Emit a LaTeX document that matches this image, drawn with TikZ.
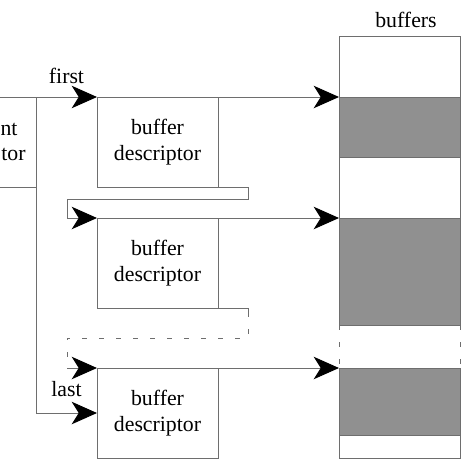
\documentclass[tikz,border=0pt]{standalone}
\usepackage{fontspec}
\setmainfont{Liberation Serif}
\usetikzlibrary{arrows.meta,calc}
\definecolor{linegray}{RGB}{110,110,110}
\definecolor{bufgray}{RGB}{144,144,144}
\begin{document}
\begin{tikzpicture}[
   x=0.025cm, y=-0.025cm,
   font=\fontsize{15.5}{18.5}\selectfont,
   line width=0.7pt,
   desc/.style={draw=linegray,anchor=north west,minimum width=3.025cm,minimum height=2.25cm,align=center,inner sep=0pt,outer sep=0pt},
   buf/.style={draw=linegray,anchor=north west,minimum width=3.025cm,inner sep=0pt,outer sep=0pt},
   full/.style={buf,fill=bufgray},
   ptr/.style={draw=linegray,-{Stealth[length=18pt,width=16pt,inset=5pt,black]}},
   link/.style={draw=linegray},
   dotline/.style={draw=linegray,dash pattern=on 3.6pt off 8.5pt}]
\useasboundingbox (0,0) rectangle (474,474);
% client descriptor, cut at the left edge
\node[draw=linegray,anchor=north east,minimum width=2cm,minimum height=2.25cm,inner sep=0pt,outer sep=0pt] (cl) at (36,97) {};
\node[anchor=base east,inner sep=0pt] (clA) at (18,135) {nt};
\node[anchor=base east,inner sep=0pt] (clB) at (26,160) {tor};
% buffer descriptors
\node[desc] (desc1) at (97,97) {buffer\\descriptor};
\node[desc] (desc2) at (97,218) {buffer\\descriptor};
\node[desc] (desc3) at (97,368) {buffer\\descriptor};
% buffers
\node[buf,minimum height=1.525cm] (buf0) at (339,36) {};
\node[full,minimum height=1.5cm] (buf1) at (339,97) {};
\node[buf,minimum height=1.525cm] (buf2) at (339,157) {};
\node[full,minimum height=2.675cm] (buf3) at (339,218) {};
\node[full,minimum height=1.675cm] (buf4) at (339,368) {};
\node[buf,minimum height=0.575cm] (buf5) at (339,435) {};
\node (buflabel) at (406,20) {buffers};
\draw[dotline] (buf3.south west) -- (buf4.north west);
\draw[dotline] (buf3.south east) -- (buf4.north east);
% first and last
\draw[ptr] (cl.north east) -- node[above=6pt] {first} (desc1.north west);
\draw[ptr] (cl.north east) |- node[pos=0.75,above=8pt] {last} (desc3.west);
% descriptors to buffers
\draw[ptr] (desc1.north east) -- (buf1.north west);
\draw[ptr] (desc2.north east) -- (buf3.north west);
\draw[ptr] (desc3.north east) -- (buf4.north west);
% next pointers
\draw[ptr] (desc1.south east) -- ++(30,0) -- ++(0,12) -| ($(desc2.north west)+(-30,0)$) -- (desc2.north west);
\coordinate (n2) at ($(desc2.south east)+(30,4)$);
\draw[link] (desc2.south east) -- ++(30,0) -- (n2);
\draw[dotline] (n2) |- ($(desc3.north west)+(-30,-30)$) -- ++(0,30);
\draw[ptr] ($(desc3.north west)+(-30,0)$) -- (desc3.north west);
\end{tikzpicture}
\end{document}
